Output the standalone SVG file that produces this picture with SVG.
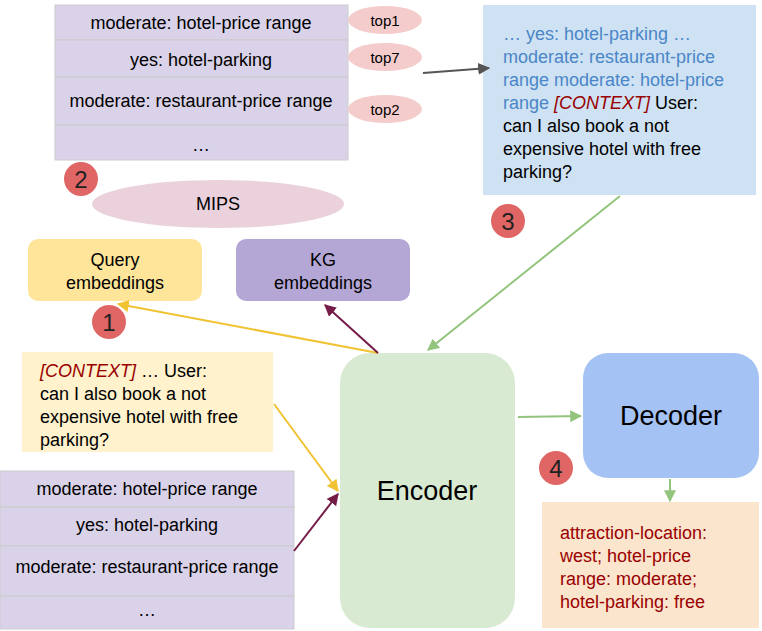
<svg xmlns="http://www.w3.org/2000/svg" width="762" height="631" viewBox="0 0 762 631">
<style>
text{font-family:"Liberation Sans",Arial,sans-serif;font-size:18px;fill:#000}
.c{text-anchor:middle}
.red{fill:#990000}
.blue{fill:#4a86c8}
.tbl{fill:#d9d2e9;stroke:#ccc;stroke-width:1}
.b{fill:#e06666}
.bt{font-size:24px;text-anchor:middle;fill:#222}
</style>
<defs>
<marker id="ay" viewBox="0 0 10 10" refX="9" refY="5" markerWidth="6" markerHeight="6" orient="auto"><path d="M0,0L10,5L0,10z" fill="#f1c232"/></marker>
<marker id="ap" viewBox="0 0 10 10" refX="9" refY="5" markerWidth="6" markerHeight="6" orient="auto"><path d="M0,0L10,5L0,10z" fill="#741b47"/></marker>
<marker id="ag" viewBox="0 0 10 10" refX="9" refY="5" markerWidth="6" markerHeight="6" orient="auto"><path d="M0,0L10,5L0,10z" fill="#93c47d"/></marker>
<marker id="ak" viewBox="0 0 10 10" refX="9" refY="5" markerWidth="6" markerHeight="6" orient="auto"><path d="M0,0L10,5L0,10z" fill="#555"/></marker>
</defs>
<g id="kg-table-top">
<rect class="tbl" x="55" y="5" width="293" height="35"/>
<rect class="tbl" x="55" y="40" width="293" height="37"/>
<rect class="tbl" x="55" y="77" width="293" height="48"/>
<rect class="tbl" x="55" y="125" width="293" height="35"/>
<text class="c" x="201" y="29">moderate: hotel-price range</text>
<text class="c" x="201" y="66">yes: hotel-parking</text>
<text class="c" x="201" y="107">moderate: restaurant-price range</text>
<text class="c" x="201" y="151">…</text>
</g>
<g id="top1"><ellipse cx="385" cy="20" rx="37" ry="14" fill="#f4cccc"/><text class="c" x="385" y="26" style="font-size:15px">top1</text></g>
<g id="top7"><ellipse cx="385" cy="57" rx="37" ry="14" fill="#f4cccc"/><text class="c" x="385" y="63" style="font-size:15px">top7</text></g>
<g id="top2"><ellipse cx="385" cy="109" rx="37" ry="14" fill="#f4cccc"/><text class="c" x="385" y="115" style="font-size:15px">top2</text></g>
<g id="retrieved-input">
<rect x="483" y="5" width="273" height="190" fill="#cfe2f3"/>
<text x="503" y="40"><tspan class="blue">… yes: hotel-parking …</tspan></text>
<text x="503" y="63"><tspan class="blue">moderate: restaurant-price</tspan></text>
<text x="503" y="86"><tspan class="blue">range moderate: hotel-price</tspan></text>
<text x="503" y="109"><tspan class="blue">range </tspan><tspan class="red" font-style="italic">[CONTEXT]</tspan> User:</text>
<text x="503" y="132">can I also book a not</text>
<text x="503" y="155">expensive hotel with free</text>
<text x="503" y="178">parking?</text>
</g>
<g id="badge2"><circle class="b" cx="81" cy="179" r="17"/><text class="bt" x="81" y="188">2</text></g>
<g id="mips"><ellipse cx="218" cy="204" rx="126" ry="24" fill="#ead1dc"/><text class="c" x="218" y="210">MIPS</text></g>
<g id="badge3"><circle class="b" cx="508" cy="221" r="17"/><text class="bt" x="508" y="230">3</text></g>
<g id="query-emb"><rect x="28" y="239" width="174" height="62" rx="10" fill="#ffe599"/><text class="c" x="115" y="266">Query</text><text class="c" x="115" y="289">embeddings</text></g>
<g id="kg-emb"><rect x="236" y="239" width="174" height="62" rx="10" fill="#b4a7d6"/><text class="c" x="323" y="266">KG</text><text class="c" x="323" y="289">embeddings</text></g>
<g id="badge1"><circle class="b" cx="109" cy="322" r="17"/><text class="bt" x="109" y="331">1</text></g>
<g id="context">
<rect x="22" y="352" width="251" height="100" fill="#fff2cc"/>
<text x="40" y="377"><tspan class="red" font-style="italic">[CONTEXT]</tspan> … User:</text>
<text x="40" y="400">can I also book a not</text>
<text x="40" y="423">expensive hotel with free</text>
<text x="40" y="446">parking?</text>
</g>
<g id="encoder"><rect x="340" y="353" width="175" height="275" rx="30" fill="#d9ead3"/><text class="c" x="427" y="500" style="font-size:27px">Encoder</text></g>
<g id="decoder"><rect x="583" y="353" width="176" height="125" rx="25" fill="#a4c2f4"/><text class="c" x="671" y="425" style="font-size:27px">Decoder</text></g>
<g id="kg-table-bottom">
<rect class="tbl" x="0" y="471" width="294" height="36"/>
<rect class="tbl" x="0" y="507" width="294" height="39"/>
<rect class="tbl" x="0" y="546" width="294" height="50"/>
<rect class="tbl" x="0" y="596" width="294" height="33"/>
<text class="c" x="147" y="495">moderate: hotel-price range</text>
<text class="c" x="147" y="531">yes: hotel-parking</text>
<text class="c" x="147" y="573">moderate: restaurant-price range</text>
<text class="c" x="147" y="616">…</text>
</g>
<g id="badge4"><circle class="b" cx="556" cy="468" r="17"/><text class="bt" x="556" y="477">4</text></g>
<g id="output">
<rect x="542" y="502" width="217" height="126" fill="#fce5cd"/>
<text class="red" x="560" y="539">attraction-location:</text>
<text class="red" x="560" y="562">west; hotel-price</text>
<text class="red" x="560" y="585">range: moderate;</text>
<text class="red" x="560" y="608">hotel-parking: free</text>
</g>
<g id="connectors" fill="none" stroke-width="2">
<line x1="423" y1="73" x2="489" y2="68" stroke="#555" marker-end="url(#ak)"/>
<line x1="378" y1="353" x2="118" y2="304" stroke="#f1c232" marker-end="url(#ay)"/>
<line x1="378" y1="353" x2="325" y2="305" stroke="#741b47" marker-end="url(#ap)"/>
<line x1="620" y1="196" x2="428" y2="350" stroke="#93c47d" marker-end="url(#ag)"/>
<line x1="274" y1="404" x2="338" y2="491" stroke="#f1c232" marker-end="url(#ay)"/>
<line x1="294" y1="551" x2="338" y2="494" stroke="#741b47" marker-end="url(#ap)"/>
<line x1="518" y1="417" x2="581" y2="416" stroke="#93c47d" marker-end="url(#ag)"/>
<line x1="670" y1="479" x2="670" y2="501" stroke="#93c47d" marker-end="url(#ag)"/>
</g>
</svg>
